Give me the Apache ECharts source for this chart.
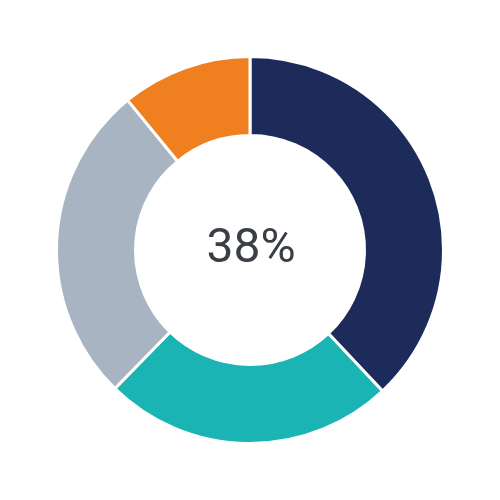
<!DOCTYPE html>
<html>
<head>
<meta charset="utf-8">
<script src="https://cdn.jsdelivr.net/npm/echarts@6/dist/echarts.min.js"></script>
<style>
  html, body { margin: 0; padding: 0; background: #ffffff; }
  #chart { width: 500px; height: 500px; }
</style>
</head>
<body>
<div id="chart"></div>
<script>
const categories = ['A', 'B', 'C', 'D'];
const values = [38, 24.3, 26.8, 10.9];
const colors = ['#1c2b5a', '#1bb4b5', '#a9b4c2', '#f07f1f'];
const centerLabel = values[0] + '%';

const chart = echarts.init(document.getElementById('chart'), null, { renderer: 'canvas' });
chart.setOption({
  animation: false,
  backgroundColor: '#ffffff',
  graphic: [{
    type: 'text',
    x: 251,
    y: 249.5,
    style: {
      text: centerLabel,
      fontSize: 48,
      fontFamily: 'Roboto, sans-serif',
      fill: '#3a3f45',
      align: 'center',
      verticalAlign: 'middle'
    }
  }],
  series: [{
    type: 'pie',
    center: ['50%', '50%'],
    radius: ['45.8%', '77.4%'],
    startAngle: 90,
    clockwise: true,
    label: { show: false },
    labelLine: { show: false },
    emphasis: { disabled: true },
    itemStyle: { borderColor: '#ffffff', borderWidth: 3 },
    data: categories.map((c, i) => ({ name: c, value: values[i], itemStyle: { color: colors[i] } }))
  }]
});
</script>
</body>
</html>
